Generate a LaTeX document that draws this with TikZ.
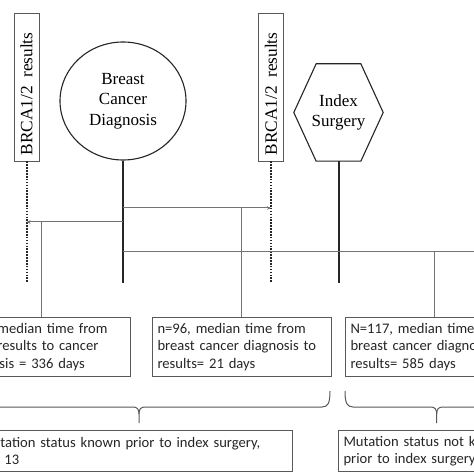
\documentclass[tikz,border=0pt]{standalone}
\usepackage{fontspec}
\setmainfont{Liberation Serif}
\newfontfamily\boxfont{Carlito}
\usetikzlibrary{arrows.meta, positioning, shapes.geometric, calc}
\definecolor{mainBlack}{gray}{0.15}
\definecolor{lineGray}{gray}{0.45}
\definecolor{boxGray}{gray}{0.35}

\tikzset{
  event/.style={font=\fontsize{17bp}{20.5bp}\selectfont, align=center, inner sep=0pt},
  resultbox/.style={draw=boxGray, line width=0.9bp, rotate=90, minimum width=148bp, minimum height=25bp,
    inner sep=0pt, font=\fontsize{17.3bp}{20bp}\selectfont},
  groupbox/.style={draw=boxGray, line width=1bp, inner xsep=5bp, inner ysep=0pt, align=left,
    text=mainBlack, font=\boxfont\fontsize{14.6bp}{17.6bp}\selectfont},
  timeline/.style={line width=2bp, mainBlack},
  branch/.style={line width=1bp, lineGray},
  dotline/.style={line width=2bp, mainBlack, dash pattern=on 1.6bp off 1.3bp},
  bracket/.style={line width=1bp, boxGray},
}

% curly bracket opening downwards: left end, tip, right end
\newcommand{\groupbrace}[3]{%
  \draw[bracket] (#1,391) .. controls (#1,403) and (#1+2,407) .. (#1+8,407) -- (#2-6,407)
    .. controls (#2-2,407) and (#2,409) .. (#2,414) -- (#2,423);
  \draw[bracket] (#3,391) .. controls (#3,403) and (#3-2,407) .. (#3-8,407) -- (#2+6,407)
    .. controls (#2+2,407) and (#2,409) .. (#2,414);
}

\begin{document}
\begin{tikzpicture}[x=1bp, y=-1bp, >={Stealth[length=4bp, width=3.5bp]}]
    \useasboundingbox (0,0) rectangle (474,474);
    \fill[white] (0,0) rectangle (474,474);
    \clip (0,0) rectangle (474,474);

    % events on the time line
    \node[resultbox] (brcaA) at (26.5,87) {\hspace*{-14bp}BRCA1/2\ \ results};
    \node[resultbox] (brcaB) at (271,87) {\hspace*{-14bp}BRCA1/2\ \ results};
    \node[event, ellipse, draw=mainBlack, line width=1.1bp, minimum width=126bp, minimum height=118bp]
        (dx) at (123,101) {Breast\\Cancer\\Diagnosis};
    \node[event, minimum width=89bp, minimum height=97bp] (surg) at (338.5,112.5) {Index\\Surgery};
    \draw[mainBlack, line width=1.1bp] (surg.west)
        -- ($(surg.north west)!0.25!(surg.north east)$) -- ($(surg.north west)!0.75!(surg.north east)$)
        -- (surg.east)
        -- ($(surg.south west)!0.75!(surg.south east)$) -- ($(surg.south west)!0.25!(surg.south east)$)
        -- cycle;

    \coordinate (endA) at (26.5,283);
    \coordinate (endB) at (271,283);
    \coordinate (dxEnd) at (123,283);
    \coordinate (surgEnd) at (338.5,283);
    \coordinate (dxL) at (123,222);
    \coordinate (dxR) at (123,208);
    \coordinate (dxM) at (123,251);
    \coordinate (lineEnd) at (480,251);
    \coordinate (tapA) at (41,222);
    \coordinate (tapB) at (241,208);
    \coordinate (tapC) at (434,251);

    \draw[dotline] (brcaA.west) -- (endA);
    \draw[dotline] (brcaB.west) -- (endB);
    \draw[timeline] (dx.south) -- (dxEnd);
    \draw[timeline] (surg.south) -- (surgEnd);

    \draw[branch, ->] (dxL) -- (dxL -| brcaA);
    \draw[branch, ->] (dxR) -- (dxR -| brcaB);
    \draw[branch] (dxM) -- (lineEnd);

    % groups
    \node[groupbox, anchor=north west, text width=128bp, minimum height=59bp] (grpA) at (-8,317)
        {median time from\\results to cancer\\\hspace*{2bp}sis = 336 days};
    \node[groupbox, anchor=north west, text width=169bp, minimum height=59bp] (grpB) at (152,317)
        {n=96, median time from\\breast cancer diagnosis to\\results= 21 days};
    \node[groupbox, anchor=north west, text width=200bp, minimum height=59bp] (grpC) at (345,317)
        {N=117, median time\\breast cancer diagno\\results= 585 days};

    \draw[branch] (tapA) -- (tapA |- grpA.north);
    \draw[branch] (tapB) -- (tapB |- grpB.north);
    \draw[branch] (tapC) -- (tapC |- grpC.north);

    \groupbrace{-52}{139}{330}
    \groupbrace{345}{436.7}{528}

    \node[groupbox, anchor=north east, text width=287bp, minimum height=41bp] (known) at (293,430)
        {tation status known prior to index surgery,\\\hspace*{4bp}13};
    \node[groupbox, anchor=north west, text width=200bp, minimum height=41bp] (unknown) at (338,430)
        {Mutation status not kn\\prior to index surgery,};
\end{tikzpicture}
\end{document}
